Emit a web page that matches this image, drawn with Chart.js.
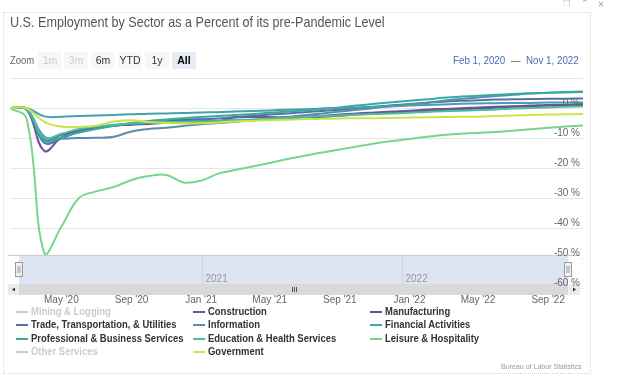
<!DOCTYPE html>
<html><head><meta charset="utf-8">
<script src="https://cdn.jsdelivr.net/npm/chart.js@4.4.0/dist/chart.umd.min.js"></script>
<style>
html,body{margin:0;padding:0;background:#fff;}
#wrap{position:relative;width:624px;height:379px;overflow:hidden;font-family:'Liberation Sans',Arial,sans-serif;}
canvas{position:absolute;left:0;top:0;}
.abs{position:absolute;white-space:nowrap;}
.sx{display:inline-block;transform-origin:0 50%;}
.btn{position:absolute;top:52px;width:24px;height:17px;line-height:17px;text-align:center;font-size:10.5px;background:#f7f7f7;color:#333;border-radius:2px;}
.dis{color:#cccccc;}
.sel{background:#e6ebf5;color:#000;font-weight:bold;}
.lg{position:absolute;font-size:11px;font-weight:bold;color:#333;line-height:13px;height:13px;}
.lg i{position:absolute;left:-15px;top:6px;width:12px;height:2px;}
.lg span{display:inline-block;transform:scaleX(0.86);transform-origin:0 50%;}
.hid{color:#cccccc;}
</style></head><body>
<div id="wrap">
  <div class="abs" style="left:3px;top:12px;width:586px;height:360px;border:1px dotted #d6d6d6;"></div>
  <canvas id="c" width="624" height="379"></canvas>
  <div class="abs" style="left:10px;top:13px;font-size:15px;color:#555;"><span class="sx" style="transform:scaleX(0.84)">U.S. Employment by Sector as a Percent of its pre-Pandemic Level</span></div>
  <div class="abs" style="left:563px;top:-1px;font-size:8px;color:#bbb;">&#10064;</div>
  <div class="abs" style="left:581px;top:-2px;font-size:9px;color:#999;">&#8963;</div>
  <div class="abs" style="left:598px;top:-1px;font-size:10px;color:#999;">&times;</div>
  <div class="abs" style="left:10px;top:53px;font-size:10.5px;color:#666;line-height:15px;"><span class="sx" style="transform:scaleX(0.9)">Zoom</span></div>
  <div id="btns"></div>
  <div class="abs" style="left:453px;top:53px;font-size:11px;color:#4a6db5;line-height:15px;"><span class="sx" style="transform:scaleX(0.89)">Feb 1, 2020 <span style="color:#666">&nbsp;&mdash;&nbsp;</span> Nov 1, 2022</span></div>
  <div id="legend"></div>
  <div class="abs" style="left:501px;top:362px;font-size:8px;color:#999;"><span class="sx" style="transform:scaleX(0.88)">Bureau of Labor Statistics</span></div>
</div>
<script>
// ---- data (percent change vs Feb 2020) ----
const months = ['2020-02','2020-03','2020-04','2020-05','2020-06','2020-07','2020-08','2020-09','2020-10','2020-11','2020-12',
  '2021-01','2021-02','2021-03','2021-04','2021-05','2021-06','2021-07','2021-08','2021-09','2021-10','2021-11','2021-12',
  '2022-01','2022-02','2022-03','2022-04','2022-05','2022-06','2022-07','2022-08','2022-09','2022-10','2022-11'];
const tickMonths = ['2020-05','2020-09','2021-01','2021-05','2021-09','2022-01','2022-05','2022-09'];
const tickLabels = ["May '20","Sep '20","Jan '21","May '21","Sep '21","Jan '22","May '22","Sep '22"];
const navYears = ['2021-01','2022-01'];
const navYearLabels = ['2021','2022'];
const yTicks = [10,0,-10,-20,-30,-40,-50,-60];

const miningLogging = [];
const construction = [0,-0.5,-14.3,-9.8,-7.2,-6.3,-5.8,-5.3,-4.9,-4.4,-4.0,-3.8,-4.3,-3.2,-3.0,-3.0,-3.1,-2.8,-2.6,-2.2,-1.8,-1.5,-1.2,-0.9,-0.5,-0.3,-0.1,0.2,0.4,0.6,0.8,1.0,1.1,1.3];
const manufacturing = [0,-0.3,-10.6,-8.9,-7.3,-6.5,-5.9,-5.6,-5.3,-4.9,-4.6,-4.5,-4.5,-4.1,-4.0,-3.8,-3.6,-3.2,-2.9,-2.6,-2.2,-1.8,-1.5,-1.3,-1.0,-0.7,-0.4,-0.2,0.1,0.4,0.6,0.8,0.9,1.0];
const tradeTransport = [0,-0.4,-11.6,-10.2,-7.8,-6.7,-5.9,-5.3,-4.8,-4.4,-4.1,-3.8,-3.5,-3.0,-2.6,-2.2,-1.8,-1.4,-1.0,-0.6,-0.1,0.4,0.9,1.3,1.7,2.1,2.4,2.6,2.8,2.9,3.0,3.1,3.1,3.2];
const information = [0,-0.3,-9.5,-10.2,-10.0,-9.9,-9.6,-7.8,-7.0,-6.6,-6.0,-5.4,-5.0,-4.6,-4.1,-3.6,-3.0,-2.4,-1.8,-1.2,-0.6,0.0,0.6,1.2,1.8,2.4,3.0,3.5,4.0,4.4,4.8,5.1,5.3,5.5];
const financial = [0,0,-2.8,-2.9,-2.7,-2.5,-2.3,-2.1,-1.9,-1.8,-1.7,-1.5,-1.4,-1.2,-1.0,-0.8,-0.6,-0.4,-0.2,0.0,0.2,0.4,0.6,0.8,1.0,1.2,1.4,1.5,1.6,1.7,1.7,1.8,1.8,1.8];
const professional = [0,-0.3,-10.8,-9.8,-8.2,-7.0,-5.9,-5.0,-4.3,-3.8,-3.4,-3.0,-2.7,-2.3,-2.0,-1.6,-1.2,-0.8,-0.3,0.2,0.8,1.4,1.9,2.4,2.9,3.4,3.8,4.1,4.4,4.7,4.9,5.1,5.2,5.3];
const education = [0,-0.2,-9.9,-8.6,-7.0,-6.1,-5.6,-5.2,-4.9,-4.7,-4.6,-4.5,-4.3,-4.0,-3.8,-3.5,-3.3,-3.0,-2.7,-2.5,-2.2,-2.0,-1.8,-1.6,-1.3,-1.1,-0.9,-0.7,-0.5,-0.2,0.0,0.2,0.4,0.6];
const leisure = [0,-3.5,-48.3,-39.6,-30.0,-27.8,-26.3,-24.0,-22.7,-22.3,-24.8,-24.2,-21.8,-20.7,-19.5,-18.3,-17.0,-15.9,-14.8,-13.8,-12.8,-11.8,-11.0,-10.3,-9.6,-9.0,-8.6,-8.3,-8.0,-7.6,-7.1,-6.6,-6.2,-5.8];
const otherServices = [];
const government = [0,-0.1,-4.6,-6.2,-6.3,-5.9,-4.5,-4.1,-4.7,-5.0,-5.1,-5.1,-4.8,-4.5,-4.3,-4.1,-3.9,-3.7,-3.6,-3.5,-3.4,-3.4,-3.3,-3.2,-3.1,-3.0,-2.9,-2.9,-2.7,-2.5,-2.3,-2.2,-2.1,-2.0];

const seriesNames = ['Mining & Logging','Construction','Manufacturing','Trade, Transportation, & Utilities','Information','Financial Activities','Professional & Business Services','Education & Health Services','Leisure & Hospitality','Other Services','Government'];
const seriesData = [miningLogging,construction,manufacturing,tradeTransport,information,financial,professional,education,leisure,otherServices,government];
const seriesColors = ['#cccccc','#7452a0','#5e559e','#5870a8','#5a8cae','#46a0ab','#36ad9c','#4dbf95','#78d58d','#cccccc','#cbe34b'];
const seriesHidden = [true,false,false,false,false,false,false,false,false,true,false];

// ---- helpers ----
const start = Date.UTC(2020,1,1);
function dayOf(m){ const p=m.split('-').map(Number); return (Date.UTC(p[0],p[1]-1,1)-start)/86400000; }
const endDay = dayOf(months[months.length-1]);

const FONT = "'Liberation Sans',Arial,sans-serif";

const datasets = seriesData.map((arr,k)=>({
  label: seriesNames[k],
  data: arr.map((v,i)=>({x: dayOf(months[i]), y: v})),
  borderColor: seriesColors[k],
  borderWidth: 2,
  pointRadius: 0,
  tension: 0.4,
  fill: false,
  hidden: seriesHidden[k],
  order: seriesData.length - k
}));

// buttons
const btnDefs = [['1m',38,'dis'],['3m',64,'dis'],['6m',91,''],['YTD',118,''],['1y',145,''],['All',172,'sel']];
document.getElementById('btns').innerHTML = btnDefs.map(b=>`<div class="btn ${b[2]}" style="left:${b[1]}px">${b[0]}</div>`).join('');

// legend
const colX = [31,208,385], rowY = [305,318,332,345];
document.getElementById('legend').innerHTML = seriesNames.map((n,k)=>{
  const c = k%3, r = Math.floor(k/3);
  return `<div class="lg ${seriesHidden[k]?'hid':''}" style="left:${colX[c]}px;top:${rowY[r]}px"><i style="background:${seriesColors[k]}"></i><span>${n}</span></div>`;
}).join('');

const navigatorPlugin = {
  id: 'nav',
  afterDatasetsDraw(chart){
    const ctx = chart.ctx;
    const top=256, bot=284, l=19, r=568, sl=8, sr=580, sbBot=295;
    ctx.save();
    ctx.fillStyle='#ffffff'; ctx.fillRect(sl, top-1, sr-sl, bot-top+1);
    ctx.fillStyle='rgba(102,133,194,0.22)'; ctx.fillRect(l, top, r-l, bot-top);
    ctx.strokeStyle='#cccccc'; ctx.lineWidth=1;
    ctx.beginPath(); ctx.moveTo(sl, top-0.5); ctx.lineTo(sr, top-0.5); ctx.stroke();
    ctx.font = "10px "+FONT; ctx.fillStyle='#999'; ctx.textBaseline='alphabetic';
    navYears.forEach((m,i)=>{
      const x = Math.round(l + dayOf(m)/endDay*(r-l))+0.5;
      ctx.strokeStyle='rgba(200,205,215,0.9)';
      ctx.beginPath(); ctx.moveTo(x, top); ctx.lineTo(x, bot); ctx.stroke();
      ctx.fillText(navYearLabels[i], x+3, bot-2);
    });
    ctx.fillStyle='#f2f2f2'; ctx.fillRect(sl, bot, sr-sl, sbBot-bot);
    ctx.fillStyle='#d9d9d9'; ctx.fillRect(l, bot, r-l, sbBot-bot);
    ctx.fillStyle='#ebebeb'; ctx.fillRect(sl, bot, l-sl, sbBot-bot); ctx.fillRect(r+1, bot, sr-r-1, sbBot-bot);
    ctx.fillStyle='#333';
    ctx.beginPath(); ctx.moveTo(12,289.5); ctx.lineTo(15,287.5); ctx.lineTo(15,291.5); ctx.closePath(); ctx.fill();
    ctx.beginPath(); ctx.moveTo(576,289.5); ctx.lineTo(573,287.5); ctx.lineTo(573,291.5); ctx.closePath(); ctx.fill();
    const cx = Math.round((l+r)/2);
    ctx.strokeStyle='#555';
    [-2,0,2].forEach(d=>{ ctx.beginPath(); ctx.moveTo(cx+d+0.5, 287); ctx.lineTo(cx+d+0.5, 292); ctx.stroke(); });
    [l, r].forEach(hx=>{
      ctx.fillStyle='#f2f2f2'; ctx.strokeStyle='#999';
      ctx.fillRect(hx-3.5, 262.5, 7, 14); ctx.strokeRect(hx-3.5, 262.5, 7, 14);
      ctx.beginPath(); ctx.moveTo(hx-1, 266); ctx.lineTo(hx-1, 273); ctx.moveTo(hx+1, 266); ctx.lineTo(hx+1, 273); ctx.stroke();
    });
    ctx.restore();
  }
};

new Chart(document.getElementById('c'), {
  type: 'line',
  data: { datasets },
  options: {
    responsive: false,
    devicePixelRatio: 1,
    animation: false,
    layout: { padding: { left: 10, right: 41, top: 78, bottom: 69 } },
    plugins: { legend: { display: false }, tooltip: { enabled: false } },
    scales: {
      x: {
        type: 'linear', min: 0, max: endDay,
        grid: { display: false, drawTicks: false },
        border: { display: false },
        afterBuildTicks: s => { s.ticks = tickMonths.map(m => ({ value: dayOf(m) })); },
        afterFit: s => { s.height = 22; },
        ticks: { autoSkip: false, maxRotation: 0, padding: 6, color: '#666', font: { size: 10, family: FONT },
          callback: (v, i) => tickLabels[i] }
      },
      y: {
        position: 'right', min: -60, max: 10,
        grid: { color: '#e6e6e6', drawTicks: false },
        border: { display: false },
        afterBuildTicks: s => { s.ticks = yTicks.map(v => ({ value: v })); },
        afterFit: s => { s.width = 0; },
        ticks: { mirror: true, padding: -3, labelOffset: -5, z: 1, color: '#666', font: { size: 10, family: FONT },
          callback: v => v === 10 ? '' : v + ' %' }
      }
    }
  },
  plugins: [navigatorPlugin]
});
</script>
</body></html>
